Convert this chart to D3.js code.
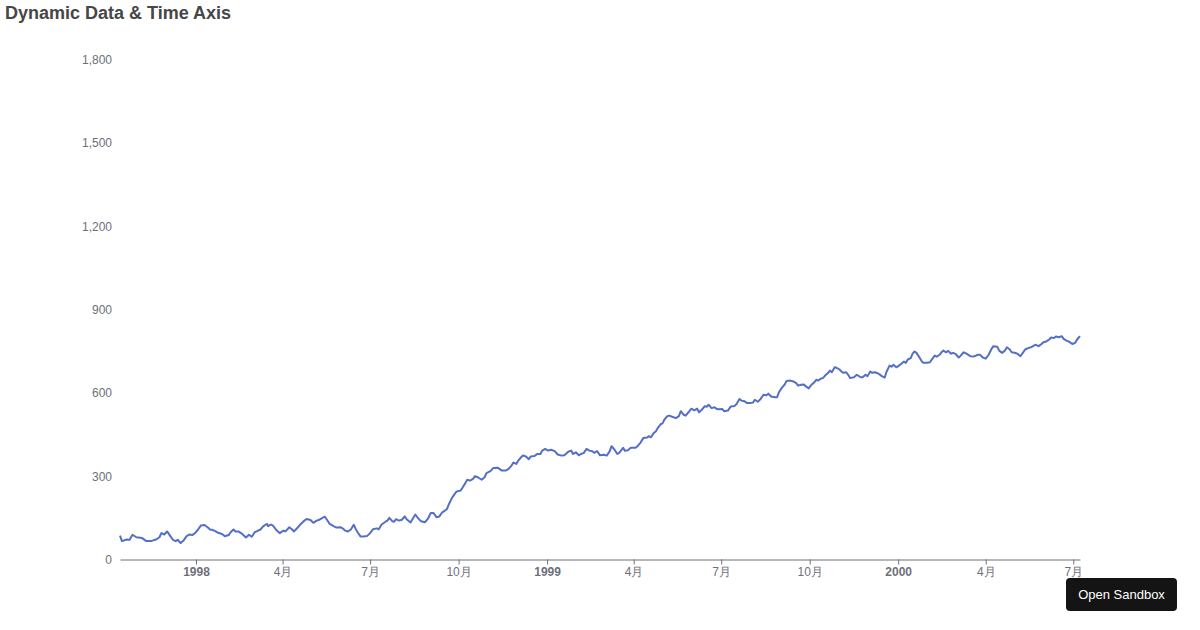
<!DOCTYPE html>
<html>
<head>
<meta charset="utf-8">
<script src="https://cdn.jsdelivr.net/npm/d3@7/dist/d3.min.js"></script>
<style>
    body { margin: 0; background: #fff; font-family: "Liberation Sans", Arial, sans-serif; }
    #chart { position: relative; width: 1200px; height: 630px; }
    .sandbox {
        position: absolute; left: 1066px; top: 578px; width: 111px; height: 33px;
        background: #141414; color: #fff; border-radius: 4px;
        font-size: 13px; line-height: 33px; text-align: center;
    }
</style>
</head>
<body>
<div id="chart"><div class="sandbox">Open Sandbox</div></div>
<script>
// series starts on this day, one reading per listed day offset
const startDate = new Date(1997, 9, 14);

const dayOffsets = [
    0, 2, 7, 10, 13, 17, 23, 27, 33, 38, 41, 43, 46, 49, 52, 55, 58, 60, 63, 66,
    69, 72, 75, 78, 81, 84, 88, 91, 94, 96, 99, 102, 106, 109, 113, 115, 118, 120, 123, 127,
    131, 134, 137, 140, 142, 146, 149, 153, 154, 157, 159, 163, 166, 170, 172, 176, 179, 181, 185, 188,
    191, 194, 198, 201, 204, 207, 210, 213, 215, 218, 222, 225, 229, 231, 234, 237, 240, 243, 245, 247,
    250, 253, 257, 260, 263, 267, 269, 272, 276, 278, 280, 283, 285, 287, 290, 293, 296, 298, 302, 304,
    307, 310, 313, 317, 320, 323, 326, 329, 332, 335, 337, 340, 342, 345, 348, 350, 354, 356, 359, 361,
    364, 367, 369, 372, 376, 379, 381, 385, 388, 393, 397, 401, 404, 407, 409, 412, 414, 417, 419, 422,
    425, 427, 431, 434, 437, 439, 442, 445, 448, 452, 455, 459, 462, 466, 469, 471, 474, 477, 479, 482,
    485, 488, 491, 493, 496, 499, 503, 506, 509, 511, 514, 517, 519, 523, 525, 528, 531, 536, 538, 541,
    544, 548, 550, 552, 555, 557, 559, 562, 564, 566, 569, 571, 574, 578, 581, 583, 586, 588, 591, 594,
    597, 600, 602, 605, 608, 610, 612, 615, 618, 620, 622, 626, 628, 632, 635, 639, 641, 644, 646, 649,
    652, 655, 658, 660, 663, 666, 669, 672, 674, 677, 681, 683, 685, 688, 691, 693, 697, 700, 703, 705,
    708, 711, 713, 716, 719, 721, 724, 726, 728, 731, 733, 736, 738, 740, 743, 745, 748, 750, 752, 755,
    757, 759, 763, 766, 770, 772, 775, 777, 780, 782, 785, 789, 792, 795, 797, 800, 802, 804, 807, 809,
    812, 815, 817, 819, 822, 824, 826, 828, 831, 833, 835, 839, 842, 845, 847, 849, 852, 854, 856, 859,
    861, 864, 866, 869, 872, 874, 877, 880, 884, 888, 892, 894, 897, 900, 903, 906, 908, 912, 914, 917,
    920, 922, 925, 927, 930, 933, 936, 938, 941, 944, 947, 950, 952, 955, 958, 960, 963, 966, 968, 971,
    973, 976, 979, 981, 984, 986, 990, 993, 995, 998
];

const values = [
    86, 66, 72, 71, 89, 80, 77, 67, 67, 73, 80, 95, 90, 101, 86, 71, 66, 71, 59, 68,
    83, 90, 88, 95, 107, 122, 124, 116, 107, 107, 102, 96, 92, 84, 88, 98, 108, 101, 101, 92,
    79, 89, 82, 98, 101, 108, 120, 128, 120, 126, 122, 104, 95, 104, 101, 116, 108, 101, 116, 128,
    138, 146, 142, 132, 139, 143, 149, 154, 144, 128, 120, 115, 116, 113, 104, 101, 108, 125, 110, 98,
    83, 83, 85, 95, 109, 112, 109, 126, 136, 140, 150, 138, 136, 145, 140, 143, 155, 145, 133, 145,
    162, 148, 138, 134, 146, 167, 167, 152, 155, 170, 174, 182, 200, 221, 236, 245, 248, 258, 275, 287,
    284, 290, 300, 296, 287, 296, 311, 318, 329, 330, 320, 320, 326, 338, 349, 344, 356, 368, 375, 371,
    361, 371, 373, 380, 380, 392, 398, 392, 395, 390, 378, 374, 375, 388, 392, 380, 386, 375, 380, 383,
    398, 392, 390, 384, 390, 375, 377, 374, 389, 408, 396, 380, 384, 402, 391, 393, 402, 402, 408, 420,
    437, 439, 444, 440, 456, 461, 473, 487, 490, 504, 516, 518, 514, 509, 516, 534, 521, 518, 530, 543,
    537, 543, 530, 540, 552, 550, 557, 545, 548, 543, 541, 542, 534, 536, 551, 553, 560, 578, 572, 570,
    563, 563, 565, 575, 568, 578, 593, 591, 597, 587, 584, 584, 602, 618, 630, 643, 644, 641, 635, 626,
    629, 630, 623, 616, 630, 635, 647, 644, 650, 654, 662, 671, 680, 674, 692, 690, 684, 677, 672, 674,
    665, 653, 656, 665, 656, 656, 665, 660, 677, 672, 674, 668, 660, 655, 677, 698, 694, 701, 692, 696,
    704, 713, 708, 720, 725, 741, 749, 744, 728, 716, 708, 708, 710, 725, 734, 730, 737, 746, 752, 746,
    751, 741, 744, 739, 727, 734, 746, 741, 732, 731, 737, 737, 727, 723, 737, 758, 768, 766, 752, 744,
    752, 764, 756, 746, 744, 741, 732, 741, 756, 761, 764, 770, 773, 768, 776, 782, 785, 792, 799, 797,
    803, 800, 804, 794, 788, 785, 776, 780, 792, 804
];

const yTicks = [0, 300, 600, 900, 1200, 1500, 1800];
const xTickDates = ['1998-01-01', '1998-04-01', '1998-07-01', '1998-10-01', '1999-01-01', '1999-04-01',
    '1999-07-01', '1999-10-01', '2000-01-01', '2000-04-01', '2000-07-01'];
const xTickLabels = ['1998', '4月', '7月', '10月', '1999', '4月', '7月', '10月', '2000', '4月', '7月'];

const width = 1200, height = 630;
const margin = {left: 120, right: 120, top: 59.5, bottom: 70.5};
const axisColor = '#6E7079';

const parseDay = d3.timeParse('%Y-%m-%d');
const data = dayOffsets.map((d, i) => ({date: d3.timeDay.offset(startDate, d), value: values[i]}));
const tickDates = xTickDates.map(parseDay);

const svg = d3.select('#chart')
    .insert('svg', ':first-child')
    .attr('width', width)
    .attr('height', height);

// title
svg.append('text')
    .attr('x', 5)
    .attr('y', 19)
    .text('Dynamic Data & Time Axis')
    .style('font-size', '18px')
    .style('font-weight', 'bold')
    .style('fill', '#464646');

const x = d3.scaleTime()
    .domain([startDate, d3.timeDay.offset(startDate, 998)])
    .range([margin.left, width - margin.right]);

const y = d3.scaleLinear()
    .domain([0, 1800])
    .range([height - margin.bottom, margin.top]);

// y axis: labels only
const yAxis = svg.append('g')
    .attr('transform', 'translate(' + margin.left + ',0)')
    .call(d3.axisLeft(y).tickValues(yTicks).tickFormat(d3.format(',')).tickSize(0).tickPadding(8));
yAxis.select('.domain').remove();
yAxis.selectAll('text')
    .style('font-size', '12px')
    .style('font-family', '"Liberation Sans", Arial, sans-serif')
    .style('fill', axisColor);

// x axis
const xAxis = svg.append('g')
    .attr('transform', 'translate(0,' + (height - margin.bottom) + ')')
    .call(d3.axisBottom(x).tickValues(tickDates)
        .tickFormat((d, i) => xTickLabels[i])
        .tickSizeInner(5).tickSizeOuter(0).tickPadding(3));
xAxis.select('.domain').attr('stroke', axisColor);
xAxis.selectAll('.tick line').attr('stroke', axisColor);
xAxis.selectAll('text')
    .style('font-size', '12px')
    .style('font-family', '"Liberation Sans", Arial, sans-serif')
    .style('fill', axisColor)
    .style('font-weight', (d, i) => xTickDates[i].endsWith('01-01') ? 'bold' : 'normal');

// series line
const line = d3.line()
    .x(d => x(d.date))
    .y(d => y(d.value));

svg.append('path')
    .datum(data)
    .attr('d', line)
    .attr('fill', 'none')
    .attr('stroke', '#5470c6')
    .attr('stroke-width', 2)
    .attr('stroke-linejoin', 'round');
</script>
</body>
</html>
